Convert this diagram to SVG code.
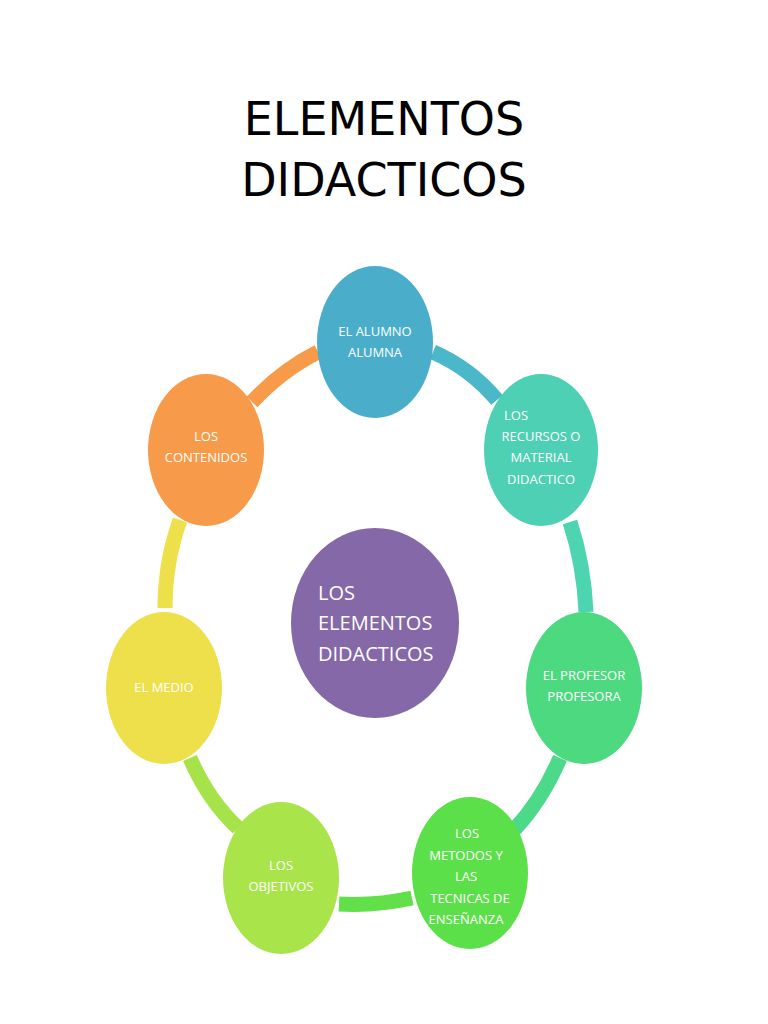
<svg xmlns="http://www.w3.org/2000/svg" width="768" height="1024" viewBox="0 0 768 1024">
<style>
.t{font-family:"DejaVu Sans",sans-serif;font-size:46px;fill:#000;text-anchor:middle}
.n{font-family:"Open Sans","Liberation Sans",sans-serif;font-size:13px;fill:#fff;text-anchor:middle}
.c{font-family:"Open Sans","Liberation Sans",sans-serif;font-size:20px;fill:#fff}
.r{fill:none;stroke-width:15}
</style>
<rect width="768" height="1024" fill="#fff"/>
<text class="t" x="384" y="135">ELEMENTOS</text>
<text class="t" x="384" y="196">DIDACTICOS</text>
<g id="connectors">
<path class="r" stroke="#F79A4A" d="M252,402 Q282,370 318,352"/>
<path class="r" stroke="#4AB8C8" d="M433,352 Q470,368 497,400"/>
<path class="r" stroke="#4DD4B0" d="M570,522 Q584,565 586,612"/>
<path class="r" stroke="#4CD98A" d="M560,758 Q542,800 514,830"/>
<path class="r" stroke="#62E04A" d="M412,898 Q376,906 339,904"/>
<path class="r" stroke="#A6E24A" d="M238,828 Q208,800 190,758"/>
<path class="r" stroke="#EEE04A" d="M165,608 Q165,562 180,520"/>
</g>
<g id="center"><ellipse cx="375" cy="623" rx="84" ry="95" fill="#8568A7"/>
<text class="c" x="318" y="600">LOS</text><text class="c" x="318" y="630">ELEMENTOS</text><text class="c" x="318" y="661">DIDACTICOS</text></g>
<g id="alumno"><ellipse cx="375" cy="342" rx="58" ry="76" fill="#4AAECB"/>
<text class="n" x="375" y="336">EL ALUMNO</text><text class="n" x="375" y="357">ALUMNA</text></g>
<g id="recursos"><ellipse cx="541" cy="450" rx="57" ry="76" fill="#4DD0B4"/>
<text class="n" x="541" y="420" style="text-anchor:start" dx="-37">LOS</text>
<text class="n" x="541" y="441">RECURSOS O</text><text class="n" x="541" y="462">MATERIAL</text><text class="n" x="541" y="484">DIDACTICO</text></g>
<g id="profesor"><ellipse cx="584" cy="688" rx="58" ry="76" fill="#4CD97F"/>
<text class="n" x="584" y="680">EL PROFESOR</text><text class="n" x="584" y="701">PROFESORA</text></g>
<g id="metodos"><ellipse cx="470" cy="873" rx="58" ry="76" fill="#5CE04A"/>
<text class="n" x="455" y="838" style="text-anchor:start">LOS</text>
<text class="n" x="466" y="860">METODOS Y</text>
<text class="n" x="455" y="881" style="text-anchor:start">LAS</text>
<text class="n" x="470" y="903">TECNICAS DE</text><text class="n" x="466" y="924">ENSEÑANZA</text></g>
<g id="objetivos"><ellipse cx="281" cy="878" rx="58" ry="76" fill="#A8E44A"/>
<text class="n" x="281" y="870">LOS</text><text class="n" x="281" y="891">OBJETIVOS</text></g>
<g id="medio"><ellipse cx="164" cy="688" rx="58" ry="76" fill="#EEE04A"/>
<text class="n" x="164" y="692">EL MEDIO</text></g>
<g id="contenidos"><ellipse cx="206" cy="450" rx="58" ry="76" fill="#F79A4A"/>
<text class="n" x="206" y="441">LOS</text><text class="n" x="206" y="462">CONTENIDOS</text></g>
</svg>
